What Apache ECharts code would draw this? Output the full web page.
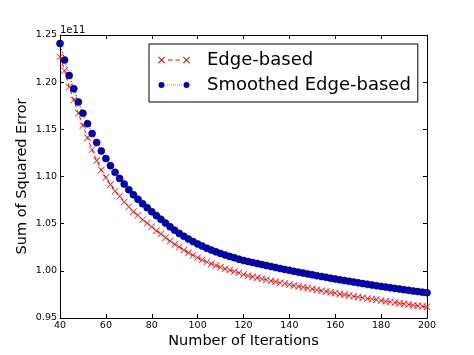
<!DOCTYPE html>
<html>
<head>
<meta charset="utf-8">
<script src="https://cdn.jsdelivr.net/npm/echarts@6/dist/echarts.min.js"></script>
<style>
html,body{margin:0;padding:0;background:#fff;}
#chart{width:474px;height:355px;}
</style>
</head>
<body>
<div id="chart"></div>
<script>
// Iterations (x values)
const iterations = [40,42,44,46,48,50,52,54,56,58,60,62,64,66,68,70,72,74,76,78,80,82,84,86,88,90,92,94,96,98,100,102,104,106,108,110,112,114,116,118,120,122,124,126,128,130,132,134,136,138,140,142,144,146,148,150,152,154,156,158,160,162,164,166,168,170,172,174,176,178,180,182,184,186,188,190,192,194,196,198,200];

// Sum of squared error (in units of 1e11)
const edgeBased = [1.227,1.2125,1.195,1.181,1.167,1.154,1.141,1.1285,1.117,1.107,1.099,1.0915,1.0844,1.079,1.073,1.068,1.0627,1.0588,1.0542,1.0505,1.0467,1.0425,1.0393,1.0351,1.0317,1.0281,1.0252,1.0221,1.0192,1.0165,1.014,1.0117,1.0095,1.0075,1.0056,1.0039,1.0023,1.0008,0.9994,0.998,0.996,0.9949,0.9938,0.9927,0.9917,0.9906,0.9896,0.9885,0.9875,0.9865,0.9855,0.9845,0.9836,0.9826,0.9817,0.9808,0.9799,0.979,0.9781,0.9772,0.9764,0.9755,0.9747,0.9739,0.9731,0.9723,0.9715,0.9707,0.97,0.9693,0.9685,0.9678,0.9671,0.9664,0.9657,0.965,0.9643,0.9636,0.963,0.9624,0.9618];

const smoothedEdgeBased = [1.241,1.2235,1.207,1.193,1.179,1.167,1.156,1.1455,1.136,1.127,1.119,1.1115,1.1044,1.098,1.092,1.086,1.0807,1.0758,1.0712,1.067,1.0627,1.0586,1.0546,1.0506,1.0467,1.0431,1.0397,1.0366,1.0337,1.031,1.0285,1.0262,1.024,1.022,1.0201,1.0184,1.0168,1.0153,1.0139,1.0124,1.011,1.0099,1.0088,1.0077,1.0067,1.0056,1.0046,1.0035,1.0025,1.0015,1.0005,0.9995,0.9986,0.9976,0.9967,0.9958,0.9949,0.994,0.9931,0.9922,0.9914,0.9905,0.9897,0.9889,0.9881,0.9873,0.9865,0.9857,0.985,0.9843,0.9835,0.9828,0.9821,0.9814,0.9807,0.98,0.9793,0.9786,0.978,0.9774,0.9768];

const seriesNames = ['Edge-based', 'Smoothed Edge-based'];
const xTicks = {min: 40, max: 200, interval: 20};
const yTicks = {min: 0.95, max: 1.25, interval: 0.05};
const offsetText = '1e11';
const xLabel = 'Number of Iterations';
const yLabel = 'Sum of Squared Error';

const FONT = 'DejaVu Sans';
const xMarker = 'path://M0,0.7L0.7,0L5,4.3L9.3,0L10,0.7L5.7,5L10,9.3L9.3,10L5,5.7L0.7,10L0,9.3L4.3,5Z';
const redLegendIcon = 'path://M0,0.7L0.7,0L3.5,2.8L6.3,0L7,0.7L4.2,3.5L7,6.3L6.3,7L3.5,4.2L0.7,7L0,6.3L2.8,3.5Z' +
  'M25,0.7L25.7,0L28.5,2.8L31.3,0L32,0.7L29.2,3.5L32,6.3L31.3,7L28.5,4.2L25.7,7L25,6.3L27.8,3.5Z' +
  'M10,3.1L14.5,3.1L14.5,3.9L10,3.9Z M17.5,3.1L22,3.1L22,3.9L17.5,3.9Z';
let dots = '';
for (let x = 9; x < 24; x += 2) { dots += 'M' + x + ',3.2L' + (x + 1) + ',3.2L' + (x + 1) + ',3.8L' + x + ',3.8Z'; }
const blueLegendIcon = 'path://M0.5,3.5A3,3,0,1,0,6.5,3.5A3,3,0,1,0,0.5,3.5Z M25.5,3.5A3,3,0,1,0,31.5,3.5A3,3,0,1,0,25.5,3.5Z' + dots + 'M0,0L0.01,0L0,0.01Z M31.99,6.99L32,7L31.99,7Z';

const chart = echarts.init(document.getElementById('chart'), null, {renderer: 'canvas'});

const commonX = {
  type: 'value', min: xTicks.min, max: xTicks.max, interval: xTicks.interval,
  axisLine: {show: true, onZero: false, lineStyle: {color: '#000', width: 1}},
  axisTick: {show: true, inside: true, length: 4, lineStyle: {color: '#000'}},
  splitLine: {show: false}
};
const commonY = {
  type: 'value', min: yTicks.min, max: yTicks.max, interval: yTicks.interval,
  axisLine: {show: true, onZero: false, lineStyle: {color: '#000', width: 1}},
  axisTick: {show: true, inside: true, length: 4, lineStyle: {color: '#000'}},
  splitLine: {show: false}
};

chart.setOption({
  animation: false,
  backgroundColor: '#fff',
  textStyle: {fontFamily: FONT},
  title: {
    text: offsetText, left: 60, top: 25, padding: 0,
    textStyle: {fontFamily: FONT, fontSize: 10, fontWeight: 'normal', color: '#000'}
  },
  grid: {left: 60, right: 47, top: 35, bottom: 37, show: false},
  legend: {
    orient: 'vertical', left: 149, top: 44,
    padding: [7, 7, 8, 9], itemGap: 7,
    itemWidth: 32, itemHeight: 7,
    borderColor: '#000', borderWidth: 1, backgroundColor: '#fff',
    textStyle: {fontFamily: FONT, fontSize: 18, color: '#000', padding: [0, 0, 0, 12]},
    data: [
      {name: seriesNames[0], icon: redLegendIcon, itemStyle: {color: '#ff0000', borderWidth: 0}},
      {name: seriesNames[1], icon: blueLegendIcon, itemStyle: {color: '#0000cc', borderWidth: 0}}
    ]
  },
  xAxis: [
    Object.assign({}, commonX, {
      position: 'bottom',
      name: xLabel, nameLocation: 'middle', nameGap: 16, nameMoveOverlap: false,
      nameTextStyle: {fontFamily: FONT, fontSize: 14.5, color: '#000'},
      axisLabel: {show: true, margin: 3, fontFamily: FONT, fontSize: 9.5, color: '#000'}
    }),
    Object.assign({}, commonX, {position: 'top', axisLabel: {show: false}})
  ],
  yAxis: [
    Object.assign({}, commonY, {
      position: 'left',
      name: yLabel, nameLocation: 'middle', nameGap: 30, nameMoveOverlap: false,
      nameTextStyle: {fontFamily: FONT, fontSize: 14.5, color: '#000'},
      axisLabel: {show: true, margin: 3, fontFamily: FONT, fontSize: 9.5, color: '#000',
        formatter: v => v.toFixed(2)}
    }),
    Object.assign({}, commonY, {position: 'right', axisLabel: {show: false}})
  ],
  series: [
    {
      name: seriesNames[0], type: 'line', xAxisIndex: 0, yAxisIndex: 0,
      data: iterations.map((x, i) => [x, edgeBased[i]]),
      symbol: xMarker, symbolSize: 7, showAllSymbol: true,
      itemStyle: {color: '#ff0000', borderWidth: 0},
      lineStyle: {color: '#ff0000', width: 1, type: [4, 3]},
      emphasis: {disabled: true}, clip: true
    },
    {
      name: seriesNames[1], type: 'line', xAxisIndex: 0, yAxisIndex: 0,
      data: iterations.map((x, i) => [x, smoothedEdgeBased[i]]),
      symbol: 'circle', symbolSize: 7, showAllSymbol: true,
      itemStyle: {color: '#0000cc', borderColor: '#000040', borderWidth: 0.6},
      lineStyle: {color: '#0000ff', width: 1, type: [1, 2]},
      emphasis: {disabled: true}, clip: true
    }
  ]
});
</script>
</body>
</html>
